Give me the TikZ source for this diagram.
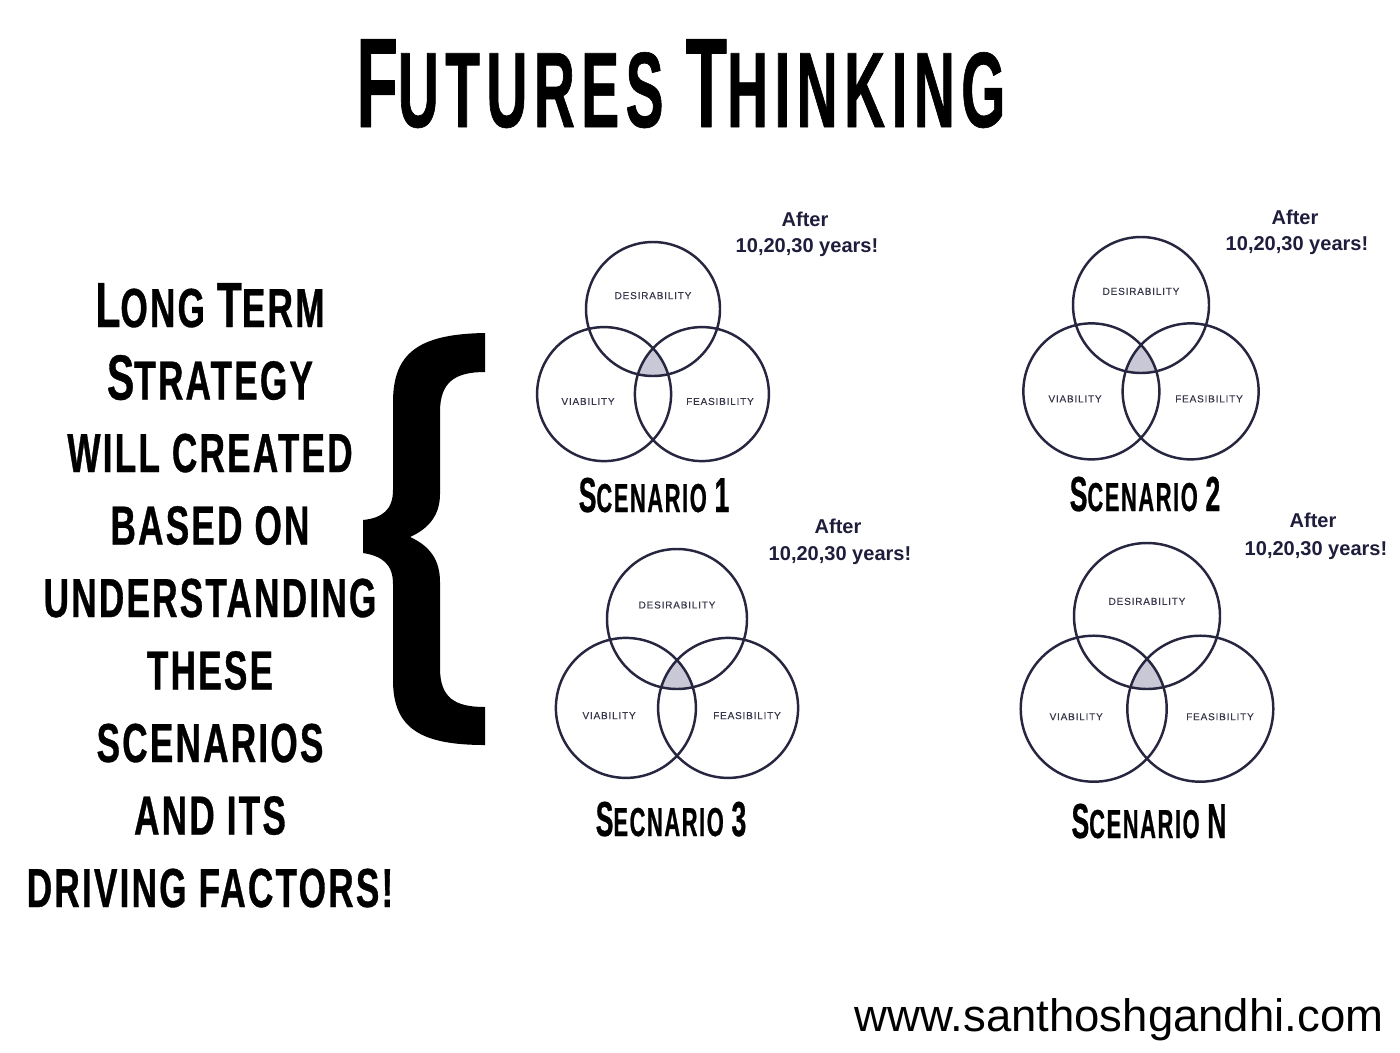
\documentclass[tikz,border=0pt]{standalone}
\usepackage{fontspec}
\setmainfont{Liberation Sans}
\newfontfamily\titlefont[FakeStretch=0.53,FakeBold=0.6,LetterSpace=6]{Liberation Sans}
\newfontfamily\sidefont[FakeStretch=0.64,FakeBold=0.6,LetterSpace=4]{Liberation Sans}
\newfontfamily\scenfont[FakeStretch=0.54,FakeBold=0.6,LetterSpace=4]{Liberation Sans}
\newfontfamily\vennfont[LetterSpace=8,FakeBold=0.3]{Liberation Sans}

\newcommand{\titleB}[1]{{\fontsize{72.6}{80}\selectfont #1}}
\newcommand{\sideB}[1]{{\fontsize{36.3}{40}\selectfont #1}}
\newcommand{\scenB}[1]{{\fontsize{28}{32}\selectfont #1}}

\begin{document}
\begin{tikzpicture}[x=0.02cm, y=-0.02cm, line cap=round, line join=round]
  \definecolor{ink}{RGB}{38,38,64}
  \definecolor{core}{RGB}{200,200,214}
  \definecolor{navy}{RGB}{30,30,60}
  \definecolor{labgray}{RGB}{55,55,75}

  \tikzset{
    ring/.style={draw=ink, line width=1.4pt},
    venntext/.style={font=\vennfont\fontsize{5.7}{6}\selectfont, text=labgray, inner sep=0pt},
    titletext/.style={font=\titlefont\bfseries\fontsize{61}{70}\selectfont, anchor=base, inner sep=0pt},
    sidetext/.style={font=\sidefont\bfseries\fontsize{31.3}{36}\selectfont, anchor=base, inner sep=0pt},
    scentext/.style={font=\scenfont\bfseries\fontsize{23}{26}\selectfont, anchor=base, inner sep=0pt},
    aftertext/.style={font=\bfseries\fontsize{11.4}{13}\selectfont, text=navy, anchor=base, inner sep=0pt},
    webtext/.style={font=\fontsize{25.9}{30}\selectfont, anchor=base, inner sep=0pt}
  }

  \useasboundingbox (0,0) rectangle (1400,1052);
  \fill[white] (0,0) rectangle (1400,1052);

  \newcommand{\scenario}[4]{%
    \begin{scope}[shift={(#2,#3)}]
      \pgfmathsetmacro{\vdx}{0.73*#4}
      \pgfmathsetmacro{\vdy}{1.27*#4}
      \begin{scope}
        \clip (0,0) circle (#4);
        \clip (-\vdx,\vdy) circle (#4);
        \fill[core] (\vdx,\vdy) circle (#4);
      \end{scope}
      \draw[ring] (0,0) circle (#4);
      \draw[ring] (-\vdx,\vdy) circle (#4);
      \draw[ring] (\vdx,\vdy) circle (#4);
      \node[venntext] (#1-des) at (0,{-0.2*#4}) {DESIRABILITY};
      \node[venntext] (#1-via) at ({-0.97*#4},{1.38*#4}) {VIABILITY};
      \node[venntext] (#1-fea) at ({1.0*#4},{1.38*#4}) {FEASIBILITY};
    \end{scope}%
  }

  % heading
  \node[titletext] (title) at (681,127) {\titleB{F}UTURES \titleB{T}HINKING};

  % left column
  \foreach \txt [count=\i] in {{\sideB{L}ONG \sideB{T}ERM}, {\sideB{S}TRATEGY},
      {WILL CREATED}, {BASED ON}, {UNDERSTANDING}, {THESE}, {SCENARIOS},
      {AND ITS}, {DRIVING FACTORS!}} {
    \node[sidetext] (side\i) at (210,{327+72.5*(\i-1)}) {\txt};
  }

  % brace
  \fill[black] (485,333) .. controls (420,334) and (393,352) .. (393,402)
    -- (393,490) .. controls (393,510) and (382,518) .. (363,520)
    -- (363,553) .. controls (382,556) and (393,564) .. (393,584)
    -- (393,680) .. controls (393,728) and (420,745) .. (485,745)
    -- (485,707) .. controls (455,707) and (440,698) .. (440,668)
    -- (440,582) .. controls (440,560) and (430,546) .. (410,537)
    .. controls (430,528) and (440,514) .. (440,494)
    -- (440,412) .. controls (440,382) and (455,372) .. (485,372) -- cycle;

  % scenarios
  \scenario{s1}{653}{309}{67}
  \scenario{s2}{1141}{305}{68}
  \scenario{s3}{677}{619}{70}
  \scenario{sn}{1147}{616}{73}

  \node[scentext] (s1-name) at (654,512) {\scenB{S}CENARIO \scenB{1}};
  \node[scentext] (s2-name) at (1145,511) {\scenB{S}CENARIO \scenB{2}};
  \node[scentext] (s3-name) at (671,836) {\scenB{S}ECNARIO \scenB{3}};
  \node[scentext] (sn-name) at (1149,838) {\scenB{S}CENARIO \scenB{N}};

  \node[aftertext] (s1-after) at (805,226) {After};
  \node[aftertext] (s1-years) at (807,252) {10,20,30 years!};
  \node[aftertext] (s2-after) at (1295,224) {After};
  \node[aftertext] (s2-years) at (1297,250) {10,20,30 years!};
  \node[aftertext] (s3-after) at (838,533) {After};
  \node[aftertext] (s3-years) at (840,560) {10,20,30 years!};
  \node[aftertext] (sn-after) at (1313,527) {After};
  \node[aftertext] (sn-years) at (1316,555) {10,20,30 years!};

  % footer
  \node[webtext] (web) at (1119,1031) {www.santhoshgandhi.com};
\end{tikzpicture}
\end{document}
